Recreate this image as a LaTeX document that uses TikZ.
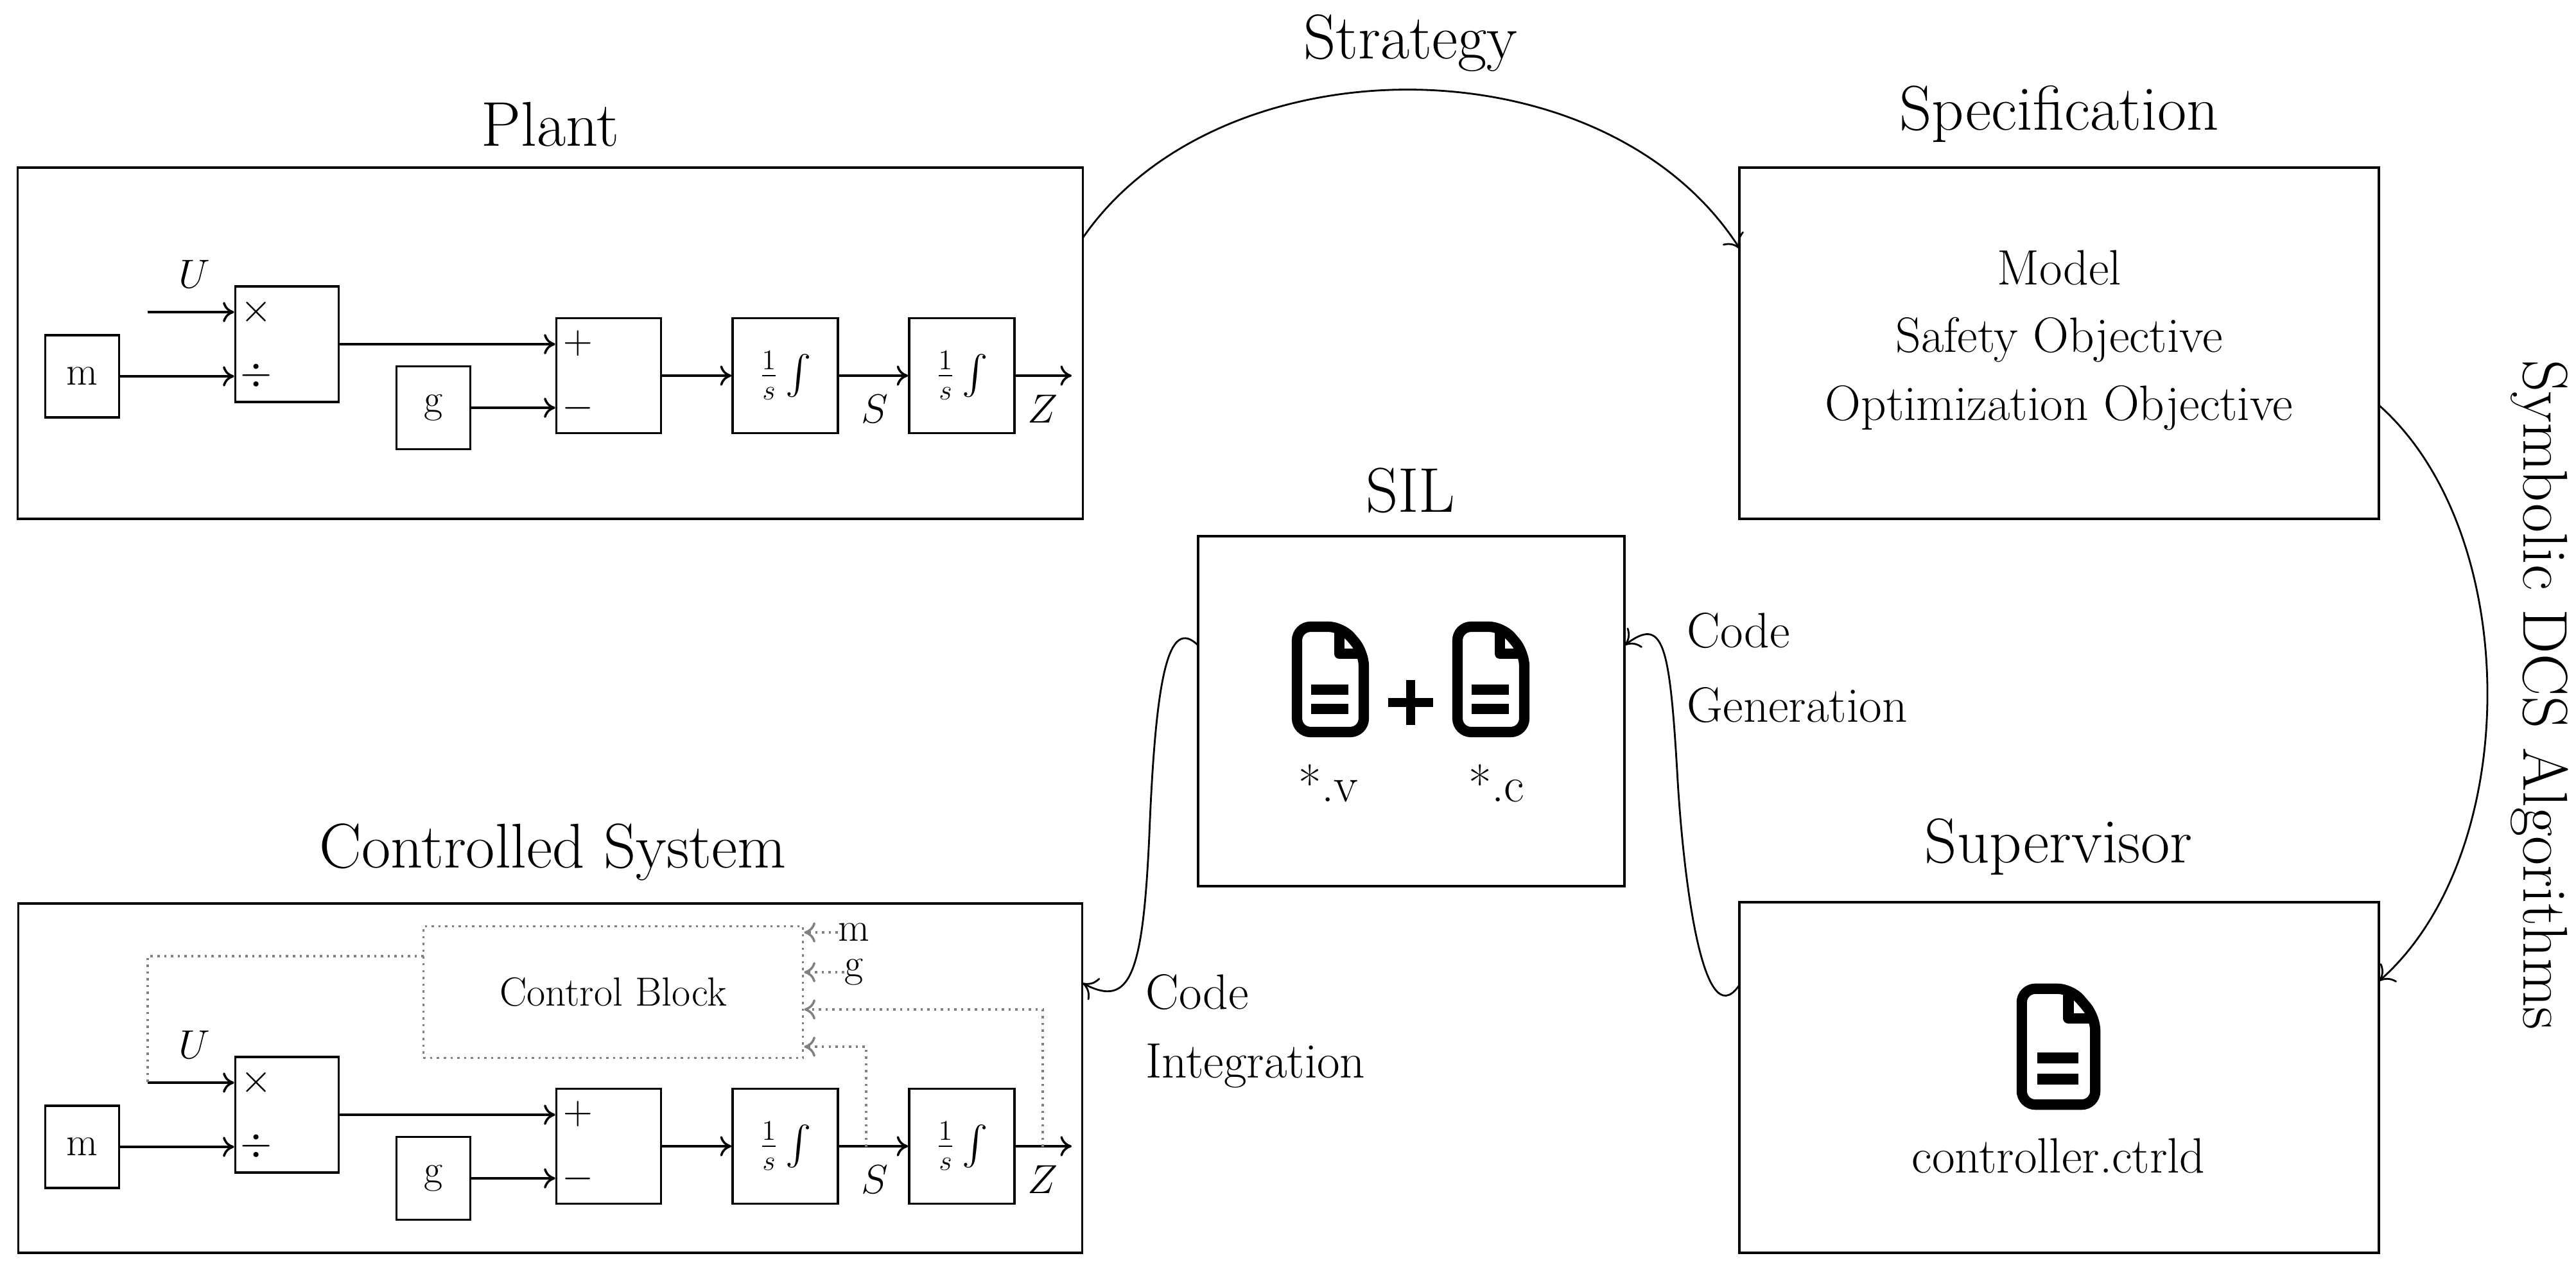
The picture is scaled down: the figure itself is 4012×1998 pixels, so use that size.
\documentclass[tikz,border=0pt]{standalone}
\usepackage{fix-cm}
\usepackage{amsmath}
\usetikzlibrary{arrows.meta,calc}
\begin{document}
\begin{tikzpicture}[x=0.01cm,y=-0.01cm,
  title/.style={font=\fontsize{28}{32}\selectfont},
  body/.style={font=\fontsize{22}{26}\selectfont},
  small/.style={font=\fontsize{18}{22}\selectfont},
  big/.style={draw,line width=1.1pt,inner sep=0},
  blk/.style={draw,line width=1pt,inner sep=0,small},
  arr/.style={line width=1pt,-{To[length=5pt,width=9pt]}},
  darr/.style={line width=1pt,dotted,gray,-{To[length=5pt,width=9pt]}},
  con/.style={line width=0.8pt,-{To[length=6pt,width=11pt]}},
  fileicon/.pic={
    \draw[line width=4.6pt,rounded corners=6pt,fill=white] (-52,-82) -- (18,-82) -- (52,-42) -- (52,82) -- (-52,82) -- cycle;
    \draw[line width=4.6pt,line join=round] (14,-82) -- (14,-40) -- (52,-40);
    \fill (-30,8) rectangle (28,24);
    \fill (-30,38) rectangle (28,54);
  },
  blockdiag/.pic={
    \node[blk,minimum width=1.15cm,minimum height=1.28cm] (m) at (128,586) {m};
    \node[blk,minimum width=1.61cm,minimum height=1.80cm] (mul) at (447,536) {};
    \node[small] (times) at (399,486) {$\times$};
    \node[small] (div) at (399,585) {$\div$};
    \node[blk,minimum width=1.15cm,minimum height=1.29cm] (g) at (675,635) {g};
    \node[blk,minimum width=1.63cm,minimum height=1.79cm] (sum) at (948,585) {};
    \node[small] (plus) at (900,535) {$+$};
    \node[small] (minus) at (900,636) {$-$};
    \node[blk,minimum width=1.64cm,minimum height=1.79cm] (i1) at (1223,585) {$\frac{1}{s}\int$};
    \node[blk,minimum width=1.64cm,minimum height=1.79cm] (i2) at (1498,585) {$\frac{1}{s}\int$};
    \node[small] (U) at (303,427) {$U$};
    \node[small] (S) at (1362,637) {$S$};
    \node[small] (Z) at (1624,637) {$Z$};
    \draw[arr] (230,486) -- (230,486 -| mul.west);
    \draw[arr] (m.east) -- (m.east -| mul.west);
    \draw[arr] (mul.east) -- (mul.east -| sum.west);
    \draw[arr] (g.east) -- (g.east -| sum.west);
    \draw[arr] (sum.east) -- (i1.west);
    \draw[arr] (i1.east) -- (i2.west);
    \draw[arr] (i2.east) -- (1669,585);
  }]
\useasboundingbox (0,0) rectangle (4012,1998);

% big boxes
\node[big,minimum width=16.58cm,minimum height=5.47cm] (plant) at (857,534.5) {};
\node[title] (plantT) at (857,194) {Plant};
\node[big,minimum width=9.96cm,minimum height=5.47cm] (spec) at (3207,534.5) {};
\node[title] (specT) at (3207,178) {Specification};
\node[body,align=center] (specL) at (3207,530) {Model\\[4pt]Safety Objective\\[4pt]Optimization Objective};
\node[big,minimum width=6.64cm,minimum height=5.45cm] (sil) at (2198,1107.5) {};
\node[title] (silT) at (2197,764) {SIL};
\node[big,minimum width=9.96cm,minimum height=5.46cm] (sup) at (3207,1678) {};
\node[title] (supT) at (3206,1319) {Supervisor};
\node[big,minimum width=16.56cm,minimum height=5.44cm] (ctrl) at (857,1679) {};
\node[title] (ctrlT) at (861,1327) {Controlled System};

% block diagrams
\pic (P) at (0,0) {blockdiag};
\pic (C) at (0,1200) {blockdiag};

% control block
\node[draw,dotted,gray,line width=1pt,minimum width=5.91cm,minimum height=2.05cm,inner sep=0] (cb) at (955,1545) {};
\node[small] (cbT) at (955,1545) {Control Block};
\coordinate (ua) at (660,1489);
\coordinate (ub) at (230,1686);
\draw[line width=1pt,dotted,gray] (ua) -| (ub);
\node[small,inner sep=0pt] (mlab) at (1330,1452) {m};
\node[small,inner sep=0pt] (glab) at (1330,1514) {g};
\draw[darr] (mlab.west) -- (mlab.west -| cb.east);
\draw[darr] (glab.west) -- (glab.west -| cb.east);
\coordinate (sf) at (1349,1786);
\coordinate (zf) at (1624,1786);
\draw[darr] (sf) |- ($(cb.east)+(0,85)$);
\draw[darr] (zf) |- ($(cb.east)+(0,27)$);

% icons
\pic at (2072,1058) {fileicon};
\pic at (2322,1058) {fileicon};
\draw[line width=4.2pt] (2162,1094) -- (2232,1094) (2197,1059) -- (2197,1129);
\node[body] (fv) at (2069,1220) {*.v};
\node[body] (fc) at (2331,1220) {*.c};
\pic[scale=1.1] at (3206,1630) {fileicon};
\node[body] (ctl) at (3206,1800) {controller.ctrld};

% connectors
\coordinate (st1) at (1686,371);
\coordinate (st2) at (2710,388);
\draw[con] (st1) .. controls (1900,60) and (2500,60) .. (st2);
\node[title] (strat) at (2197,67) {Strategy};

\coordinate (sy1) at (3705,631);
\coordinate (sy2) at (3705,1528);
\draw[con] (sy1) .. controls (3930,830) and (3930,1330) .. (sy2);
\node[title,rotate=-90] (symb) at (3955,1082) {Symbolic DCS Algorithms};

\coordinate (cg1) at (2709,1534);
\coordinate (cg2) at (2530,1005);
\coordinate (cgm) at (2612,1200);
\draw[line width=0.8pt] (cg1) .. controls (2650,1620) and (2620,1350) .. (cgm);
\draw[con] (cgm) .. controls (2600,1000) and (2590,960) .. (cg2);
\node[body,anchor=west] (cgA) at (2615,982) {Code};
\node[body,anchor=west] (cgB) at (2615,1098) {Generation};

\coordinate (ci1) at (1866,1005);
\coordinate (ci2) at (1686,1531);
\coordinate (cim) at (1790,1300);
\draw[line width=0.8pt] (ci1) .. controls (1820,960) and (1800,1050) .. (cim);
\draw[con] (cim) .. controls (1780,1520) and (1760,1570) .. (ci2);
\node[body,anchor=west] (ciA) at (1772,1545) {Code};
\node[body,anchor=west] (ciB) at (1772,1660) {Integration};
\end{tikzpicture}
\end{document}
